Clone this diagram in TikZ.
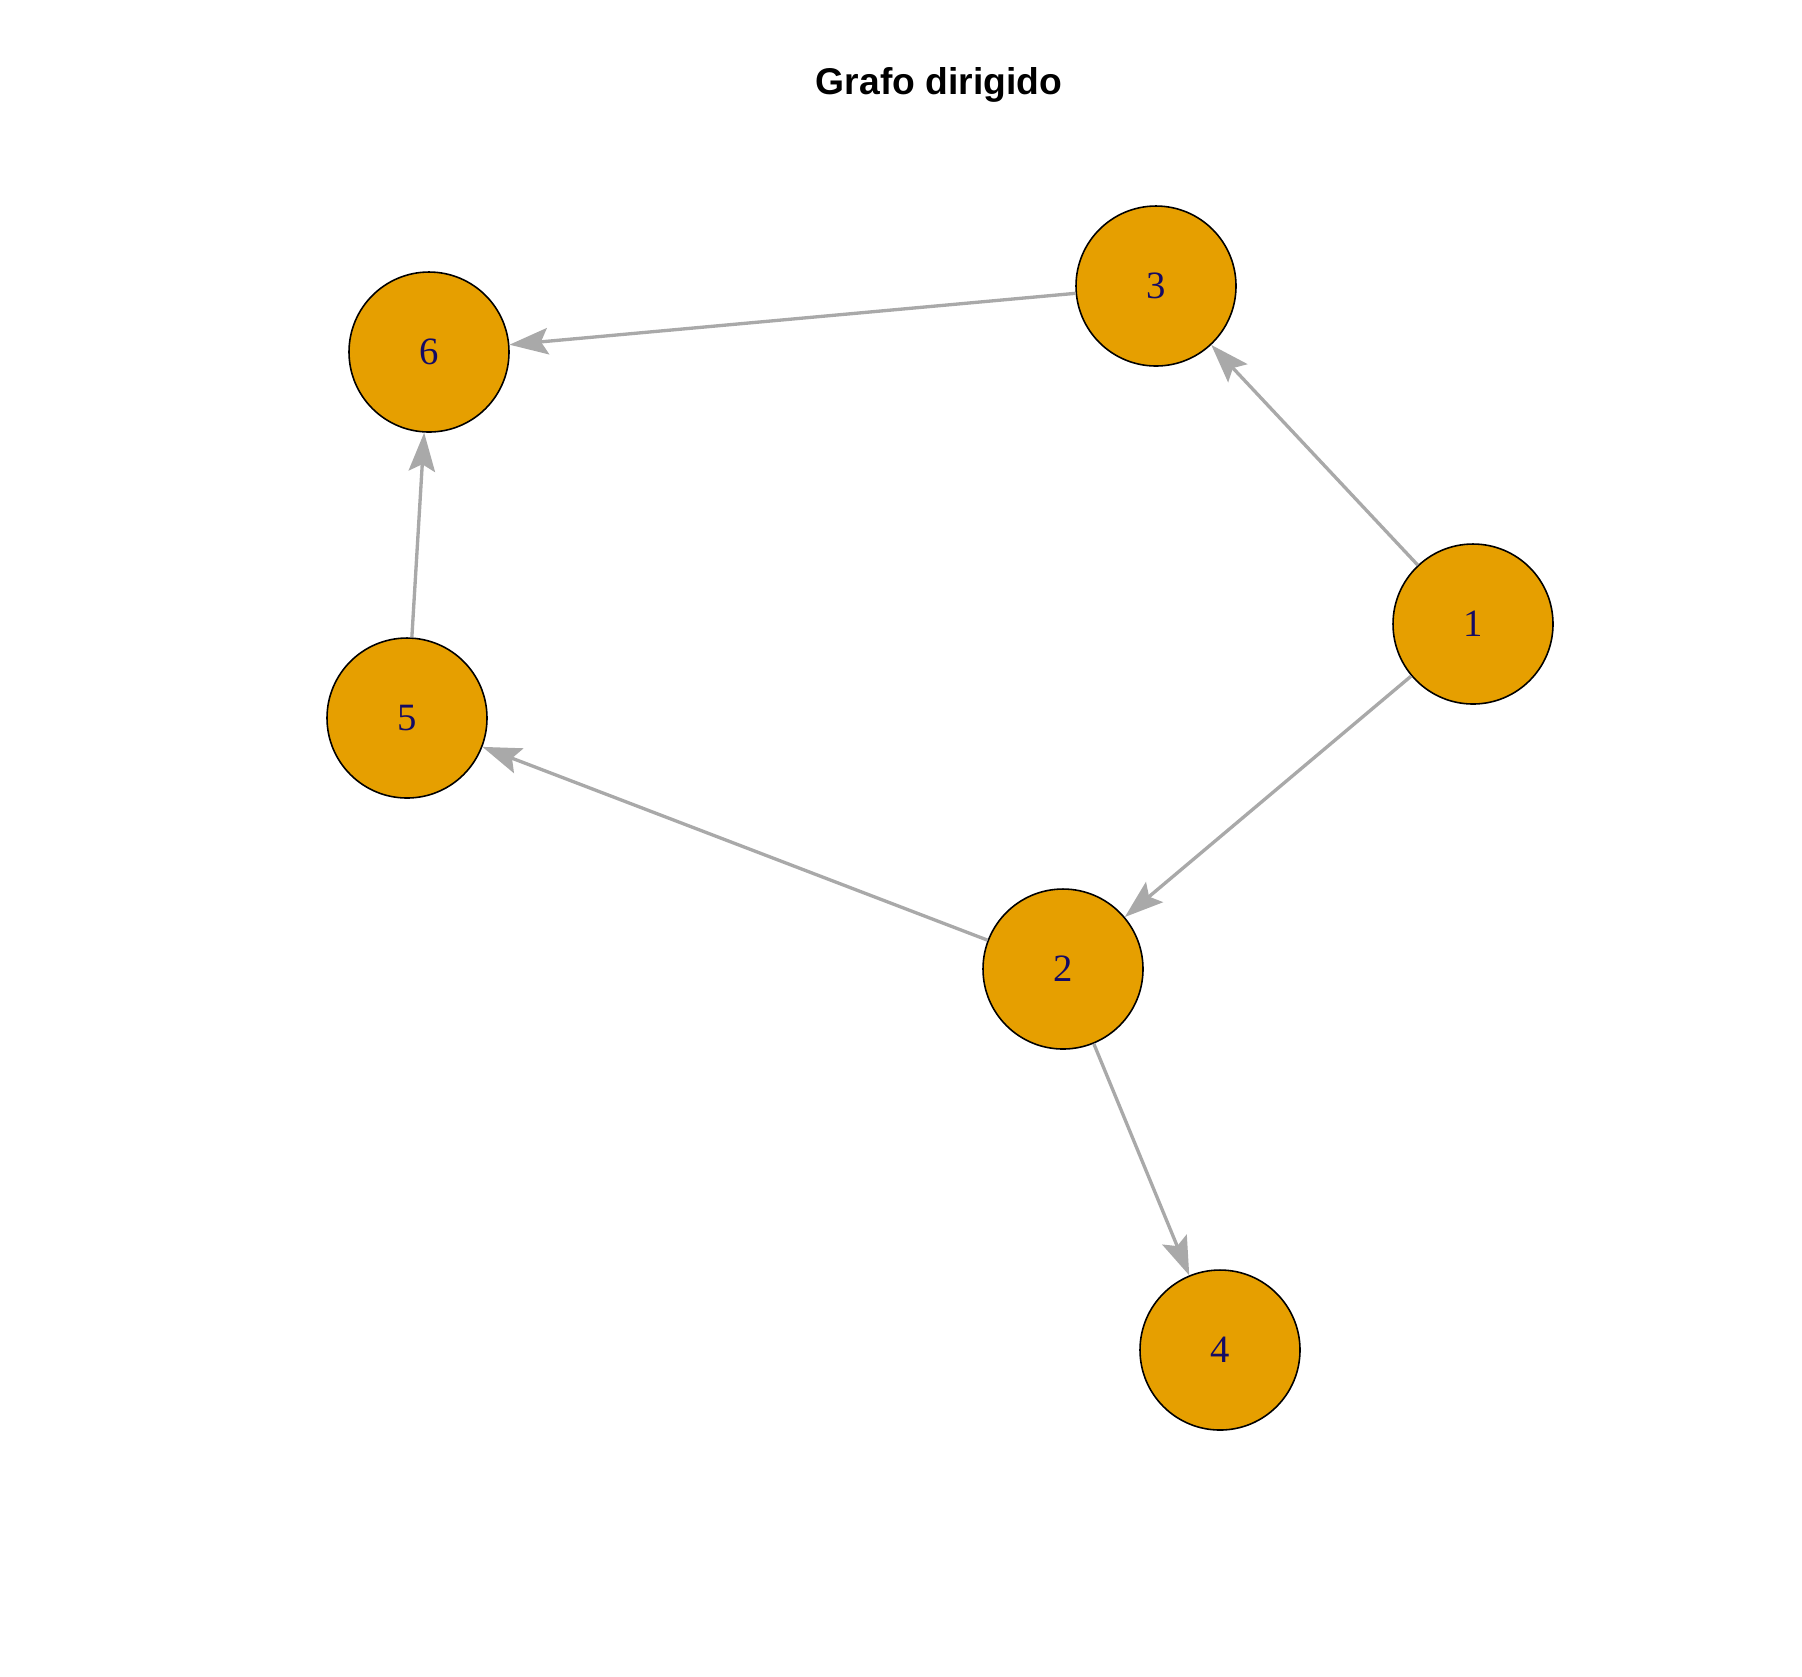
\documentclass[tikz,border=0pt]{standalone}
\usepackage{fontspec}
\setmainfont{Liberation Serif}
\newfontfamily\titlefont{Liberation Sans}
\usetikzlibrary{arrows.meta}
\definecolor{vxorange}{HTML}{E69F00}
\definecolor{vxlabel}{RGB}{20,10,100}
\definecolor{edgegray}{HTML}{A9A9A9}
\begin{document}
\begin{tikzpicture}[
  vx/.style={circle, draw=black, line width=0.45pt, fill=vxorange, minimum size=1.6cm, inner sep=0pt, text=vxlabel, font=\fontsize{11}{12}\selectfont},
  arc/.style={-{Stealth[length=11pt, width=7.5pt, inset=2pt]}, draw=edgegray, line width=0.95pt}]
\useasboundingbox (0,0) rectangle (18.02,-16.76);
% title
\node[font=\titlefont\bfseries\fontsize{10.6}{13}\selectfont] (title) at (9.39,-0.85) {Grafo dirigido};
% vertices
\node[vx] (v1) at (14.73,-6.24) {1};
\node[vx] (v2) at (10.63,-9.69) {2};
\node[vx] (v3) at (11.56,-2.86) {3};
\node[vx] (v4) at (12.20,-13.50) {4};
\node[vx] (v5) at (4.07,-7.18) {5};
\node[vx] (v6) at (4.29,-3.52) {6};
% edges
\draw[arc] (v1) -- (v3);
\draw[arc] (v1) -- (v2);
\draw[arc] (v3) -- (v6);
\draw[arc] (v2) -- (v5);
\draw[arc] (v2) -- (v4);
\draw[arc] (v5) -- (v6);
\end{tikzpicture}
\end{document}
